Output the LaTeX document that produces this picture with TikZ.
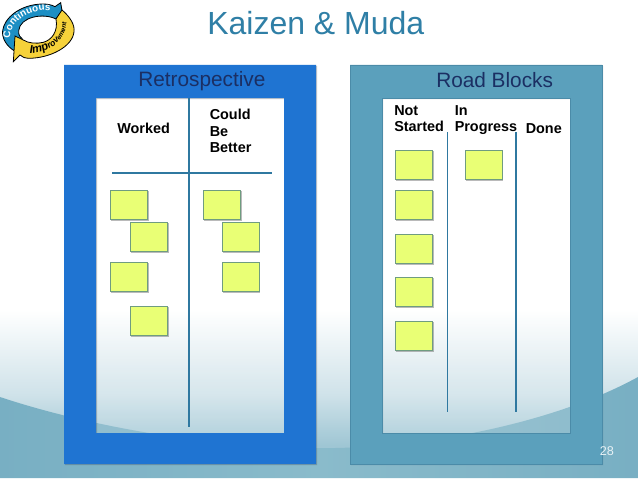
\documentclass[tikz,border=0pt]{standalone}
\usepackage{fontspec}
\setmainfont{Liberation Sans}
\usetikzlibrary{shadows,decorations.text}
\definecolor{titleblue}{HTML}{2F7FA6}
\definecolor{navy}{HTML}{1B2F63}
\definecolor{royal}{HTML}{1F74D2}
\definecolor{teal}{HTML}{5BA0BC}
\definecolor{tealedge}{HTML}{4B8BA8}
\definecolor{rule}{HTML}{2F78A0}
\definecolor{note}{HTML}{E9FF75}
\definecolor{noteedge}{HTML}{6F9C80}
\definecolor{logoblue}{HTML}{1C8FC4}
\definecolor{logoyellow}{HTML}{F6D23A}
\definecolor{bgone}{HTML}{CFE2E9}
\definecolor{bgtwo}{HTML}{9FC6D4}
\definecolor{sheenedge}{HTML}{78AFC3}
\definecolor{sheenmid}{HTML}{8ABBCB}
\tikzset{
  x=0.75pt,y=-0.75pt,
  frameshadow/.style={even odd rule,fill=black!70,fill opacity=.3},
  frame/.style={even odd rule},
  stickynote/.style={draw=noteedge,line width=0.8pt,fill=note,minimum width=28pt,minimum height=22pt,inner sep=0pt,anchor=north west,
    drop shadow={shadow xshift=.6pt,shadow yshift=-.6pt,opacity=.45,fill=black!60}},
  bigtitle/.style={anchor=base west,inner sep=0pt,text=titleblue,font=\fontsize{24}{28}\selectfont},
  paneltitle/.style={anchor=base west,inner sep=0pt,text=navy,font=\fontsize{15.6}{18}\selectfont},
  collabel/.style={anchor=base west,inner sep=0pt,align=left,text=black,font=\fontsize{10.8}{12.4}\selectfont\bfseries},
  divider/.style={draw=rule,line width=1.1pt},
  logoline/.style={draw=black,line width=.6pt},
}
\begin{document}
\begin{tikzpicture}
\useasboundingbox (0,0) rectangle (638,478);
\begin{scope}
\clip (0,0) rectangle (638,478);
\fill[white] (0,0) rectangle (638,478);
\shade[top color=white,bottom color=bgone] (0,310) rectangle (638,395);
\shade[top color=bgone,bottom color=bgtwo] (0,394.5) rectangle (638,445);
\fill[bgtwo] (0,444.5) rectangle (638,478);
\shade[left color=sheenedge,right color=sheenedge,middle color=sheenmid]
  (0,397) .. controls (90,427) and (220,450) .. (335,448)
  .. controls (440,446) and (560,420) .. (638,377) -- (638,478) -- (0,478) -- cycle;
\end{scope}
% inner sheets let the background show through
\fill[white,fill opacity=.15] (96,98) rectangle (284,433);
\fill[white,fill opacity=.15] (382,98) rectangle (570,433);
% frames
\path[frameshadow] (65,66) rectangle (317,465) (97,99) rectangle (285,434);
\path[frameshadow] (351,66) rectangle (603,465) (383,99) rectangle (571,434);
\path[frame,fill=royal] (64,65) rectangle (316,464) (96,98) rectangle (284,433);
\path[frame,fill=teal,draw=tealedge,line width=.7pt] (350,65) rectangle (602,464) (382,98) rectangle (570,433);
% title
\node[bigtitle] (title) at (207,35) {Kaizen \& Muda};
\node[paneltitle] (retro) at (138,86) {Retrospective};
\node[paneltitle] (road) at (436,87.5) {Road Blocks};
% left board
\coordinate (lt) at (189,98); \coordinate (lb) at (189,427);
\coordinate (hl) at (112,173); \coordinate (hr) at (272,173);
\draw[divider] (lt) -- (lb);
\draw[divider] (hl) -- (hr);
\node[collabel] (worked) at (117,133) {Worked};
\node[collabel] (could) at (209.5,119) {Could};
\node[collabel] (be) at (209.5,136) {Be};
\node[collabel] (better) at (209.5,152) {Better};
\node[stickynote] (a1) at (110,190) {};
\node[stickynote] (a2) at (130,222) {};
\node[stickynote] (a3) at (110,262) {};
\node[stickynote] (a4) at (130,306) {};
\node[stickynote] (b1) at (203,190) {};
\node[stickynote] (b2) at (221.5,222) {};
\node[stickynote] (b3) at (221.5,262) {};
% right board
\coordinate (m1t) at (447.5,132); \coordinate (m1b) at (447.5,412);
\coordinate (m2t) at (516,132); \coordinate (m2b) at (516,412);
\draw[divider] (m1t) -- (m1b);
\draw[divider] (m2t) -- (m2b);
\node[collabel] (not) at (394,115) {Not};
\node[collabel] (started) at (394,131) {Started};
\node[collabel] (in) at (454.5,115) {In};
\node[collabel] (progress) at (454.5,131) {Progress};
\node[collabel] (done) at (525.5,133) {Done};
\node[stickynote] (c1) at (395,150) {};
\node[stickynote] (c2) at (395,190) {};
\node[stickynote] (c3) at (395,234) {};
\node[stickynote] (c4) at (395,277) {};
\node[stickynote] (c5) at (395,321) {};
\node[stickynote] (d1) at (464.5,150) {};
% page number
\node[anchor=base west,inner sep=0pt,text=white!85!teal,font=\fontsize{9.5}{11}\selectfont] (page) at (599.5,455) {28};
% logo, in thirds of a pixel
\begin{scope}[x=0.25pt,y=-0.25pt]
\path[fill=logoblue,logoline]
  (47,155) .. controls (20,140) and (5,115) .. (8,92)
  .. controls (12,55) and (60,12) .. (130,12)
  .. controls (140,12) and (155,14) .. (165,20) -- (182,8) -- (186,32) -- (168,57)
  .. controls (130,38) and (60,50) .. (56,92)
  .. controls (55,105) and (60,112) .. (68,118) -- cycle;
\path[fill=logoyellow,logoline]
  (168,57) -- (186,30) .. controls (210,50) and (225,75) .. (222,95)
  .. controls (218,140) and (150,175) .. (85,175)
  .. controls (75,175) and (68,172) .. (60,165) -- (40,185) -- (45,108) -- (70,120)
  .. controls (85,130) and (110,132) .. (130,127)
  .. controls (155,120) and (175,95) .. (168,57) -- cycle;
\path[postaction={decorate,decoration={text along path,text align=center,
  text={|\color{white}\bfseries\fontsize{7.4}{8}\selectfont|Continuous}}}]
  (33,126) .. controls (16,70) and (90,20) .. (162,33);
\path[postaction={decorate,decoration={text along path,text align=center,
  text={|\color{black}\itshape\bfseries\fontsize{8.5}{9}\selectfont|Imp|\color{black}\itshape\bfseries\fontsize{6.5}{7}\selectfont|rov|\color{black}\itshape\bfseries\fontsize{5}{6}\selectfont|ement}}}]
  (74,160) .. controls (130,170) and (210,125) .. (198,52);
\end{scope}
\end{tikzpicture}
\end{document}
